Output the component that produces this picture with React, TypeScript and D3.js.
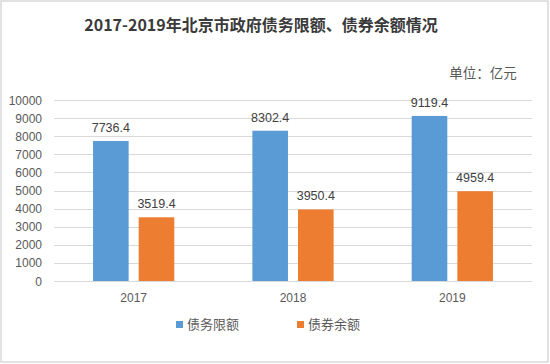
import React from "react";
import * as d3 from "d3";

const years = ["2017", "2018", "2019"];
const seriesNames = ["债务限额", "债券余额"];
const limitValues = [7736.4, 8302.4, 9119.4];
const balanceValues = [3519.4, 3950.4, 4959.4];
const yTicks = [0, 1000, 2000, 3000, 4000, 5000, 6000, 7000, 8000, 9000, 10000];
const colors = ["#5B9BD5", "#ED7D31"];
const title = "2017-2019年北京市政府债务限额、债券余额情况";
const unitText = "单位：亿元";

const W = 550;
const H = 364;
const left = 54;
const right = 532;
const top = 100;
const bottom = 281;

export default function App() {
  const x0 = d3.scaleBand<string>().domain(years).range([left, right]).paddingInner(0.49).paddingOuter(0.245);
  const x1 = d3.scaleBand<number>().domain([0, 1]).range([0, x0.bandwidth()]).paddingInner(0.22);
  const y = d3.scaleLinear().domain([0, 10000]).range([bottom, top]);
  const series = [limitValues, balanceValues];
  const font = "'Liberation Sans', Arial, sans-serif";
  const cjk = "'Noto Sans CJK SC', 'Microsoft YaHei', sans-serif";

  return (
    <svg width={W} height={H} style={{ position: "absolute", left: 0, top: 0, background: "#fff" }}>
      <rect x={1} y={1} width={547} height={361} fill="#fff" stroke="#d9d9d9" strokeWidth={1.5} />
      <text x={261} y={31} textAnchor="middle" fontFamily={cjk} fontWeight="bold" fontSize={16} fill="#3a3a3a">
        {title}
      </text>
      <text x={483} y={78} textAnchor="middle" fontFamily={cjk} fontSize={13.5} fill="#595959">
        {unitText}
      </text>
      {yTicks.map((t) => (
        <g key={t}>
          <line x1={left} x2={right} y1={Math.round(y(t)) + 0.5} y2={Math.round(y(t)) + 0.5} stroke="#d9d9d9" strokeWidth={1} />
          <text x={42} y={y(t) + 4.5} textAnchor="end" fontFamily={font} fontSize={12} fill="#595959">
            {t}
          </text>
        </g>
      ))}
      {years.map((yr, i) => (
        <g key={yr}>
          {series.map((vals, s) => {
            const bx = (x0(yr) ?? 0) + (x1(s) ?? 0);
            const by = y(vals[i]);
            return (
              <g key={s}>
                <rect x={bx} y={by} width={x1.bandwidth()} height={bottom - by} fill={colors[s]} />
                <text x={bx + x1.bandwidth() / 2} y={by - 9} textAnchor="middle" fontFamily={font} fontSize={12.5} fill="#404040">
                  {vals[i].toFixed(1)}
                </text>
              </g>
            );
          })}
          <text x={(x0(yr) ?? 0) + x0.bandwidth() / 2} y={302} textAnchor="middle" fontFamily={font} fontSize={12} fill="#595959">
            {yr}
          </text>
        </g>
      ))}
      {seriesNames.map((name, s) => {
        const lx = s === 0 ? 176 : 297;
        return (
          <g key={name}>
            <rect x={lx} y={321} width={7} height={7} fill={colors[s]} />
            <text x={lx + 11} y={329} fontFamily={cjk} fontSize={13} fill="#595959">
              {name}
            </text>
          </g>
        );
      })}
    </svg>
  );
}
